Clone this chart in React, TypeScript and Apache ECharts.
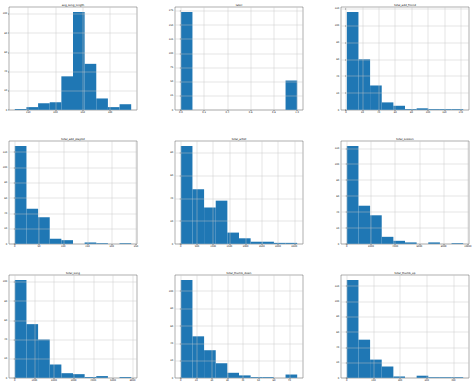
import React, { useEffect, useRef } from 'react';
import * as echarts from 'echarts';

// ---- data ----
const titles = [
  'avg_song_length', 'label', 'total_add_friend',
  'total_add_playlist', 'total_artist', 'total_session',
  'total_song', 'total_thumb_down', 'total_thumb_up',
];

const avgSongLengthCounts = [1, 3, 7, 8, 35, 102, 48, 12, 3, 6];
const avgSongLengthRange = [125.6, 338.5];
const avgSongLengthXTicks = [150, 200, 250, 300];
const avgSongLengthYTicks = [0, 20, 40, 60, 80, 100];

const labelCounts = [173, 0, 0, 0, 0, 0, 0, 0, 0, 52];
const labelRange = [0, 1];
const labelXTicks = [0, 0.2, 0.4, 0.6, 0.8, 1.0];
const labelYTicks = [0, 25, 50, 75, 100, 125, 150, 175];

const addFriendCounts = [116, 60, 29, 9, 5, 1, 2, 1, 1, 1];
const addFriendRange = [1, 143];
const addFriendXTicks = [0, 20, 40, 60, 80, 100, 120, 140];
const addFriendYTicks = [0, 20, 40, 60, 80, 100, 120];

const addPlaylistCounts = [128, 46, 35, 7, 5, 0, 2, 1, 0, 1];
const addPlaylistRange = [0, 240];
const addPlaylistXTicks = [0, 50, 100, 150, 200, 250];
const addPlaylistYTicks = [0, 20, 40, 60, 80, 100, 120];

const artistCounts = [86, 48, 32, 38, 10, 5, 2, 2, 1, 1];
const artistRange = [3, 3590];
const artistXTicks = [0, 500, 1000, 1500, 2000, 2500, 3000, 3500];
const artistYTicks = [0, 20, 40, 60, 80];

const sessionCounts = [123, 48, 36, 9, 4, 2, 0, 2, 0, 1];
const sessionRange = [6, 9615];
const sessionXTicks = [0, 2000, 4000, 6000, 8000, 10000];
const sessionYTicks = [0, 20, 40, 60, 80, 100, 120];

const songCounts = [102, 56, 40, 14, 5, 4, 1, 2, 0, 1];
const songRange = [3, 5930];
const songXTicks = [0, 1000, 2000, 3000, 4000, 5000, 6000];
const songYTicks = [0, 20, 40, 60, 80, 100];

const thumbDownCounts = [113, 48, 32, 17, 6, 3, 1, 1, 0, 4];
const thumbDownRange = [0, 75];
const thumbDownXTicks = [0, 10, 20, 30, 40, 50, 60, 70];
const thumbDownYTicks = [0, 20, 40, 60, 80, 100];

const thumbUpCounts = [128, 50, 24, 15, 2, 0, 3, 1, 1, 1];
const thumbUpRange = [0, 437];
const thumbUpXTicks = [0, 100, 200, 300, 400];
const thumbUpYTicks = [0, 20, 40, 60, 80, 100, 120];

const panels = [
  { counts: avgSongLengthCounts, range: avgSongLengthRange, xTicks: avgSongLengthXTicks, yTicks: avgSongLengthYTicks, dec: 0 },
  { counts: labelCounts, range: labelRange, xTicks: labelXTicks, yTicks: labelYTicks, dec: 1 },
  { counts: addFriendCounts, range: addFriendRange, xTicks: addFriendXTicks, yTicks: addFriendYTicks, dec: 0 },
  { counts: addPlaylistCounts, range: addPlaylistRange, xTicks: addPlaylistXTicks, yTicks: addPlaylistYTicks, dec: 0 },
  { counts: artistCounts, range: artistRange, xTicks: artistXTicks, yTicks: artistYTicks, dec: 0 },
  { counts: sessionCounts, range: sessionRange, xTicks: sessionXTicks, yTicks: sessionYTicks, dec: 0 },
  { counts: songCounts, range: songRange, xTicks: songXTicks, yTicks: songYTicks, dec: 0 },
  { counts: thumbDownCounts, range: thumbDownRange, xTicks: thumbDownXTicks, yTicks: thumbDownYTicks, dec: 0 },
  { counts: thumbUpCounts, range: thumbUpRange, xTicks: thumbUpXTicks, yTicks: thumbUpYTicks, dec: 0 },
];

// ---- layout ----
const colLeft = [9, 175, 341];
const rowTop = [7, 141, 275];
const W = 128;
const H = 103;
const FONT = 'DejaVu Sans';
const BAR = '#1f77b4';

function buildOption() {
  const grid: any[] = [];
  const xAxis: any[] = [];
  const yAxis: any[] = [];
  const series: any[] = [];
  const graphic: any[] = [];

  panels.forEach((p, i) => {
    const r = Math.floor(i / 3);
    const c = i % 3;
    const [lo, hi] = p.range;
    const span = hi - lo;
    const n = p.counts.length;
    const bins = p.counts.map((cnt, k) => [lo + (span * k) / n, lo + (span * (k + 1)) / n, cnt]);
    const ymax = Math.max(...p.counts) * 1.05;

    grid.push({
      left: colLeft[c], top: rowTop[r], width: W, height: H,
      show: true, borderColor: '#333', borderWidth: 0.4, backgroundColor: 'transparent',
      containLabel: false, outerBoundsMode: 'none',
    });
    xAxis.push({
      type: 'value', gridIndex: i, min: lo - 0.05 * span, max: hi + 0.05 * span, z: 3,
      axisLine: { show: false },
      axisTick: { show: true, length: 1, lineStyle: { color: '#000', width: 0.4 }, customValues: p.xTicks },
      axisLabel: {
        customValues: p.xTicks, fontSize: 2.3, margin: 1.8, color: '#000', fontFamily: FONT,
        formatter: (v: number) => v.toFixed(p.dec),
      },
      splitLine: { show: true, lineStyle: { color: '#c4c4c4', width: 0.45 } },
    });
    yAxis.push({
      type: 'value', gridIndex: i, min: 0, max: ymax, z: 3,
      axisLine: { show: false },
      axisTick: { show: true, length: 1, lineStyle: { color: '#000', width: 0.4 }, customValues: p.yTicks },
      axisLabel: {
        customValues: p.yTicks, fontSize: 2.3, margin: 1.8, color: '#000', fontFamily: FONT,
        formatter: (v: number) => String(Math.round(v)),
      },
      splitLine: { show: true, lineStyle: { color: '#c4c4c4', width: 0.45 } },
    });
    series.push({
      type: 'custom', xAxisIndex: i, yAxisIndex: i, data: bins,
      encode: { x: [0, 1], y: 2 },
      renderItem: (_params: any, api: any) => {
        const a = api.coord([api.value(0), api.value(2)]);
        const b = api.coord([api.value(1), 0]);
        return {
          type: 'rect',
          shape: { x: a[0], y: a[1], width: b[0] - a[0], height: b[1] - a[1] },
          style: { fill: BAR },
        };
      },
    });
    graphic.push({
      type: 'text', x: colLeft[c] + W / 2, y: rowTop[r] - 1.3,
      style: {
        text: titles[i], fontSize: 2.7, fontFamily: FONT, fill: '#000',
        textAlign: 'center', textVerticalAlign: 'bottom',
      },
    });
  });

  return {
    animation: false,
    backgroundColor: '#fff',
    grid, xAxis, yAxis, series, graphic,
  };
}

export default function App() {
  const ref = useRef<HTMLDivElement>(null);
  useEffect(() => {
    document.body.style.margin = '0';
    if (!ref.current) return;
    const chart = echarts.init(ref.current, undefined, { renderer: 'svg' });
    chart.setOption(buildOption() as any);
    return () => chart.dispose();
  }, []);
  return <div ref={ref} style={{ width: 474, height: 386 }} />;
}
